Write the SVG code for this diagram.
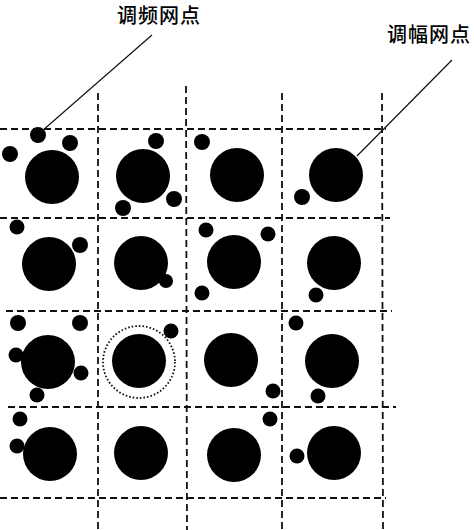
<svg xmlns="http://www.w3.org/2000/svg" width="474" height="530" viewBox="0 0 474 530">
<style>
.grid{stroke:#111;stroke-width:1.8;stroke-dasharray:7 4;fill:none}
.big{fill:#000}
.sm{fill:#000}
.lead{stroke:#111;stroke-width:1.2;fill:none}
.lbl{font-family:"Noto Sans CJK SC","Noto Sans CJK JP",sans-serif;font-size:20px;letter-spacing:1px;font-weight:500;fill:#000}
</style>
<rect width="474" height="530" fill="#fff"/>
<g id="grid">
<line class="grid" x1="0" y1="129" x2="386" y2="129"/>
<line class="grid" x1="0" y1="218" x2="390" y2="218"/>
<line class="grid" x1="6" y1="311" x2="392" y2="311"/>
<line class="grid" x1="8" y1="407" x2="396" y2="407"/>
<line class="grid" x1="0" y1="498" x2="386" y2="498"/>
<line class="grid" x1="98" y1="93" x2="98" y2="530"/>
<line class="grid" x1="186" y1="86" x2="187" y2="530"/>
<line class="grid" x1="282" y1="93" x2="282" y2="530"/>
<line class="grid" x1="382" y1="93" x2="383" y2="530"/>
</g>
<g id="row1">
<circle class="big" cx="52" cy="177" r="27"/>
<circle class="big" cx="143" cy="176" r="27"/>
<circle class="big" cx="237" cy="175" r="27"/>
<circle class="big" cx="336" cy="175" r="27"/>
<circle class="sm" cx="38" cy="135" r="8"/>
<circle class="sm" cx="10" cy="154" r="8"/>
<circle class="sm" cx="70" cy="143" r="8"/>
<circle class="sm" cx="156" cy="141" r="8"/>
<circle class="sm" cx="174" cy="199" r="8"/>
<circle class="sm" cx="123" cy="208" r="8"/>
<circle class="sm" cx="202" cy="142" r="8"/>
<circle class="sm" cx="302" cy="197" r="8"/>
</g>
<g id="row2">
<circle class="big" cx="49" cy="264" r="27"/>
<circle class="big" cx="141" cy="263" r="27"/>
<circle class="big" cx="234" cy="262" r="27"/>
<circle class="big" cx="334" cy="263" r="27"/>
<circle class="sm" cx="17" cy="227" r="7.5"/>
<circle class="sm" cx="80" cy="245" r="8"/>
<circle class="sm" cx="166" cy="281" r="7"/>
<circle class="sm" cx="206" cy="230" r="7.5"/>
<circle class="sm" cx="202" cy="293" r="7.5"/>
<circle class="sm" cx="268" cy="234" r="7.5"/>
<circle class="sm" cx="316" cy="295" r="7.5"/>
</g>
<g id="row3">
<circle class="big" cx="48" cy="362" r="27"/>
<circle class="big" cx="139" cy="361" r="27"/>
<circle cx="139" cy="362" r="36" fill="none" stroke="#111" stroke-width="1.8" stroke-dasharray="1.6 2"/>
<circle class="big" cx="231" cy="360" r="27"/>
<circle class="big" cx="332" cy="361" r="27"/>
<circle class="sm" cx="18" cy="323" r="8"/>
<circle class="sm" cx="80" cy="323" r="8"/>
<circle class="sm" cx="16" cy="355" r="7.5"/>
<circle class="sm" cx="81" cy="373" r="7.5"/>
<circle class="sm" cx="37" cy="395" r="7.5"/>
<circle class="sm" cx="171" cy="331" r="7.5"/>
<circle class="sm" cx="273" cy="391" r="7.5"/>
<circle class="sm" cx="296" cy="323" r="7.5"/>
<circle class="sm" cx="318" cy="396" r="7.5"/>
</g>
<g id="row4">
<circle class="big" cx="50" cy="454" r="27"/>
<circle class="big" cx="141" cy="453" r="27"/>
<circle class="big" cx="234" cy="455" r="27"/>
<circle class="big" cx="334" cy="453" r="27"/>
<circle class="sm" cx="20" cy="419" r="7.5"/>
<circle class="sm" cx="17" cy="446" r="7.5"/>
<circle class="sm" cx="270" cy="419" r="7.5"/>
<circle class="sm" cx="297" cy="456" r="7.5"/>
</g>
<g id="connectors">
<line class="lead" x1="152" y1="35" x2="42" y2="131"/>
<line class="lead" x1="452" y1="60" x2="357" y2="156"/>
</g>
<g id="label-fm">
<text class="lbl" x="117" y="23">调频网点</text>
</g>
<g id="label-am">
<text class="lbl" x="387" y="42">调幅网点</text>
</g>
</svg>
